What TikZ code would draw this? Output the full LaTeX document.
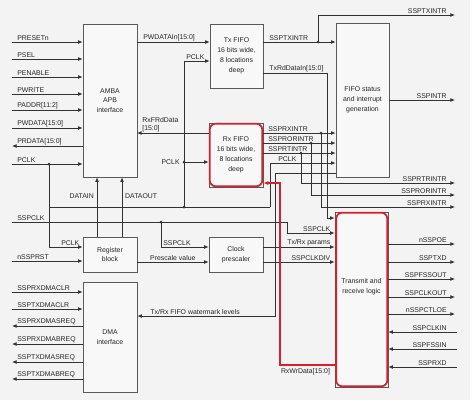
\documentclass[tikz,border=0pt]{standalone}
\usepackage{fontspec}
\setmainfont{Liberation Sans}
\usetikzlibrary{arrows.meta}
\definecolor{panel}{RGB}{243,243,243}
\definecolor{boxfill}{RGB}{248,248,248}
\definecolor{wire}{RGB}{50,50,50}
\definecolor{hilite}{RGB}{214,32,44}
\begin{document}
\begin{tikzpicture}[x=1pt,y=-1pt,
  blk/.style={draw=black!65,fill=boxfill,line width=0.6pt,minimum width=54pt,inner sep=0pt,align=center,font=\fontsize{6.9}{9.8}\selectfont,text=black!85},
  sig/.style={draw=wire,line width=0.75pt},
  to/.style={sig,-{Latex[length=4.6pt,width=3.8pt]}},
  lbl/.style={font=\fontsize{6.9}{8}\selectfont,text=black!85,inner sep=1pt},
  redbox/.style={draw=hilite,line width=1.7pt,rounded corners=6pt},
  redwire/.style={draw=hilite,line width=2pt,-{Latex[length=5pt,width=4.2pt]}}]
\useasboundingbox (0,0) rectangle (474,405);
\fill[panel] (0,0) rectangle (470,400);

% blocks
\node[blk,minimum height=153pt] (amba) at (110,100.5) {AMBA\\APB\\interface};
\node[blk,minimum width=53pt,minimum height=64pt] (txf) at (236.5,56) {Tx FIFO\\16 bits wide,\\8 locations\\deep};
\node[blk,minimum height=64pt] (rxf) at (236,155) {Rx FIFO\\16 bits wide,\\8 locations\\deep};
\node[blk,minimum width=53pt,minimum height=154pt] (fifo) at (362.5,100) {FIFO status\\and interrupt\\generation};
\node[blk,minimum height=35pt] (reg) at (110,254.5) {Register\\block};
\node[blk,minimum height=35pt] (clk) at (236,254.5) {Clock\\prescaler};
\node[blk,minimum height=110pt] (dma) at (110,337) {DMA\\interface};
\node[blk,minimum width=53pt,minimum height=175pt,
  label={[blk,draw=none,fill=none,yshift=12.5pt]center:Transmit and\\receive logic}] (trx) at (361.5,299.5) {};

% APB side
\coordinate (presetn) at (12,42);
\coordinate (psel) at (12,59);
\coordinate (penable) at (12,77);
\coordinate (pwrite) at (12,94);
\coordinate (paddr) at (12,110);
\coordinate (pwdata) at (12,128);
\coordinate (prdata) at (12,146);
\coordinate (pclk) at (12,164);
\draw[to] (presetn) node[lbl,anchor=south west,xshift=4pt]{PRESETn} -- (presetn -| amba.west);
\draw[to] (psel) node[lbl,anchor=south west,xshift=4pt]{PSEL} -- (psel -| amba.west);
\draw[to] (penable) node[lbl,anchor=south west,xshift=4pt]{PENABLE} -- (penable -| amba.west);
\draw[to] (pwrite) node[lbl,anchor=south west,xshift=4pt]{PWRITE} -- (pwrite -| amba.west);
\draw[to] (paddr) node[lbl,anchor=south west,xshift=4pt]{PADDR[11:2]} -- (paddr -| amba.west);
\draw[to] (pwdata) node[lbl,anchor=south west,xshift=4pt]{PWDATA[15:0]} -- (pwdata -| amba.west);
\draw[to] (prdata -| amba.west) -- (prdata) node[lbl,anchor=south west,xshift=4pt]{PRDATA[15:0]};
\draw[to] (pclk) node[lbl,anchor=south west,xshift=4pt]{PCLK} -- (pclk -| amba.west);

% PCLK tree
\coordinate (pclka) at (49,164);
\coordinate (pclkb) at (49,207);
\coordinate (pclkc) at (184,207);
\coordinate (pclkd) at (270,207);
\coordinate (regclk) at (49,247);
\coordinate (txclk) at (184,61);
\coordinate (rxclk) at (184,162);
\coordinate (stclk) at (270,163);
\draw[to] (pclka) -- (regclk) -- (regclk -| reg.west) node[lbl,anchor=south east,xshift=-2pt]{PCLK};
\draw[sig] (pclkb) -- (pclkd);
\draw[to] (pclkc) -- (txclk) node[lbl,anchor=south west,xshift=1pt]{PCLK} -- (txclk -| txf.west);
\draw[to] (rxclk) node[lbl,anchor=east,xshift=-3pt]{PCLK} -- (rxclk -| rxf.west);
\draw[to] (pclkd) -- (stclk) node[lbl,anchor=south west,xshift=7pt]{PCLK} -- (stclk -| fifo.west);
\fill[wire] (pclka) circle (1.5) (pclkc) circle (1.5) (rxclk) circle (1.5);

% register block
\coordinate (datain) at (97,237);
\coordinate (dataout) at (122,237);
\draw[to] (datain) -- (datain |- amba.south);
\draw[to] (dataout) -- (dataout |- amba.south);
\node[lbl,anchor=east] (dinlbl) at (95,196) {DATAIN};
\node[lbl,anchor=west] (doutlbl) at (124,196) {DATAOUT};
\coordinate (nssprst) at (12,261);
\draw[to] (nssprst) node[lbl,anchor=south west,xshift=4pt]{nSSPRST} -- (nssprst -| reg.west);
\coordinate (presc) at (137,262);
\draw[to] (presc) -- node[lbl,above]{Prescale value} (presc -| clk.west);

% SSPCLK
\coordinate (sspclk) at (12,222);
\coordinate (sspclka) at (161,222);
\coordinate (sspclkb) at (287,222);
\coordinate (sspclkc) at (287,233);
\coordinate (sspclkd) at (161,247);
\draw[to] (sspclk) node[lbl,anchor=south west,xshift=4pt]{SSPCLK} -- (sspclkb) -- (sspclkc) -- (sspclkc -| trx.west) node[lbl,anchor=south east,xshift=-3pt]{SSPCLK};
\draw[to] (sspclka) -- (sspclkd) node[lbl,anchor=south west,xshift=1pt]{SSPCLK} -- (sspclkd -| clk.west);
\fill[wire] (sspclka) circle (1.5);

% prescaler to transmit
\coordinate (params) at (263,247);
\coordinate (clkdiv) at (263,262);
\draw[to] (params) -- (params -| trx.west) node[lbl,anchor=south east,xshift=-3pt]{Tx/Rx params};
\draw[to] (clkdiv) -- (clkdiv -| trx.west) node[lbl,anchor=south east,xshift=-3pt]{SSPCLKDIV};

% FIFO data paths
\coordinate (pwdin) at (137,42);
\draw[to] (pwdin) node[lbl,anchor=south west,xshift=5pt]{PWDATAIn[15:0]} -- (pwdin -| txf.west);
\coordinate (rxrd) at (137,133);
\draw[to] (rxrd -| rxf.west) -- (rxrd) node[lbl,anchor=south west,align=left,xshift=4pt]{RxFRdData\\{[15:0]}};
\coordinate (txrd) at (263,73);
\coordinate (txrda) at (327,73);
\coordinate (txrdb) at (327,218);
\draw[to] (txrd) node[lbl,anchor=south west,xshift=5pt]{TxRdDataIn[15:0]} -- (txrda) -- (txrdb) -- (txrdb -| trx.west);

% interrupts
\coordinate (txint) at (263,42);
\coordinate (txinta) at (318,42);
\coordinate (txintb) at (318,15);
\coordinate (txintout) at (455,15);
\draw[to] (txint) node[lbl,anchor=south west,xshift=5pt]{SSPTXINTR} -- (txint -| fifo.west);
\draw[to] (txinta) -- (txintb) -- (txintout) node[lbl,anchor=south east,xshift=-7pt]{SSPTXINTR};
\coordinate (intout) at (455,100);
\draw[to] (intout -| fifo.east) -- (intout) node[lbl,anchor=south east,xshift=-7pt]{SSPINTR};
\coordinate (rxint) at (263,133);
\coordinate (orint) at (263,143);
\coordinate (rtint) at (263,153);
\coordinate (rxinta) at (321,133);
\coordinate (orinta) at (311,143);
\coordinate (rtinta) at (301,153);
\coordinate (rtout) at (455,183);
\coordinate (orout) at (455,195);
\coordinate (rxout) at (455,207);
\draw[to] (rxint) node[lbl,anchor=south west,xshift=4pt]{SSPRXINTR} -- (rxint -| fifo.west);
\draw[to] (orint) node[lbl,anchor=south west,xshift=4pt]{SSPRORINTR} -- (orint -| fifo.west);
\draw[to] (rtint) node[lbl,anchor=south west,xshift=4pt]{SSPRTINTR} -- (rtint -| fifo.west);
\draw[to] (rtinta) -- (rtinta |- rtout) -- (rtout) node[lbl,anchor=south east,xshift=-7pt]{SSPRTRINTR};
\draw[to] (orinta) -- (orinta |- orout) -- (orout) node[lbl,anchor=south east,xshift=-7pt]{SSPRORINTR};
\draw[to] (rxinta) -- (rxinta |- rxout) -- (rxout) node[lbl,anchor=south east,xshift=-7pt]{SSPRXINTR};
\fill[wire] (txinta) circle (1.5) (rxinta) circle (1.5) (orinta) circle (1.5) (rtinta) circle (1.5);

% watermark levels
\coordinate (wma) at (275,173);
\coordinate (wmb) at (275,316);
\draw[to] (wma -| fifo.west) -- (wma) -- (wmb) -- node[lbl,above,pos=0.58]{Tx/Rx FIFO watermark levels} (wmb -| dma.east);

% DMA side
\coordinate (rxclr) at (12,292);
\coordinate (txclr) at (12,309);
\coordinate (rxsreq) at (12,326);
\coordinate (rxbreq) at (12,344);
\coordinate (txsreq) at (12,362);
\coordinate (txbreq) at (12,379);
\draw[to] (rxclr) node[lbl,anchor=south west,xshift=4pt]{SSPRXDMACLR} -- (rxclr -| dma.west);
\draw[to] (txclr) node[lbl,anchor=south west,xshift=4pt]{SSPTXDMACLR} -- (txclr -| dma.west);
\draw[to] (rxsreq -| dma.west) -- (rxsreq) node[lbl,anchor=south west,xshift=4pt]{SSPRXDMASREQ};
\draw[to] (rxbreq -| dma.west) -- (rxbreq) node[lbl,anchor=south west,xshift=4pt]{SSPRXDMABREQ};
\draw[to] (txsreq -| dma.west) -- (txsreq) node[lbl,anchor=south west,xshift=4pt]{SSPTXDMASREQ};
\draw[to] (txbreq -| dma.west) -- (txbreq) node[lbl,anchor=south west,xshift=4pt]{SSPTXDMABREQ};

% SSP pins
\coordinate (nsspoe) at (455,244);
\coordinate (ssptxd) at (455,262);
\coordinate (fssout) at (455,279);
\coordinate (clkout) at (455,297);
\coordinate (ctloe) at (455,314);
\coordinate (clkin) at (457,332);
\coordinate (fssin) at (457,349);
\coordinate (ssprxd) at (457,367);
\draw[to] (nsspoe -| trx.east) -- (nsspoe) node[lbl,anchor=south east,xshift=-7pt]{nSSPOE};
\draw[to] (ssptxd -| trx.east) -- (ssptxd) node[lbl,anchor=south east,xshift=-7pt]{SSPTXD};
\draw[to] (fssout -| trx.east) -- (fssout) node[lbl,anchor=south east,xshift=-7pt]{SSPFSSOUT};
\draw[to] (clkout -| trx.east) -- (clkout) node[lbl,anchor=south east,xshift=-7pt]{SSPCLKOUT};
\draw[to] (ctloe -| trx.east) -- (ctloe) node[lbl,anchor=south east,xshift=-7pt]{nSSPCTLOE};
\draw[to] (clkin) node[lbl,anchor=south east,xshift=-9pt]{SSPCLKIN} -- (clkin -| trx.east);
\draw[to] (fssin) node[lbl,anchor=south east,xshift=-9pt]{SSPFSSIN} -- (fssin -| trx.east);
\draw[to] (ssprxd) node[lbl,anchor=south east,xshift=-9pt]{SSPRXD} -- (ssprxd -| trx.east);

% highlighted path
\coordinate (rwa) at (280,365);
\coordinate (rwb) at (280,183);
\draw[redwire] (rwa -| trx.west) -- (rwa) node[lbl,anchor=north west,xshift=-1pt,yshift=-1pt]{RxWrData[15:0]} -- (rwb) -- (rwb -| rxf.east);
\draw[redbox] ([shift={(1,1)}]rxf.north west) rectangle ([shift={(-1,-1)}]rxf.south east);
\draw[redbox] ([shift={(1.5,1)}]trx.north west) rectangle ([shift={(-1,-1)}]trx.south east);
\end{tikzpicture}
\end{document}
